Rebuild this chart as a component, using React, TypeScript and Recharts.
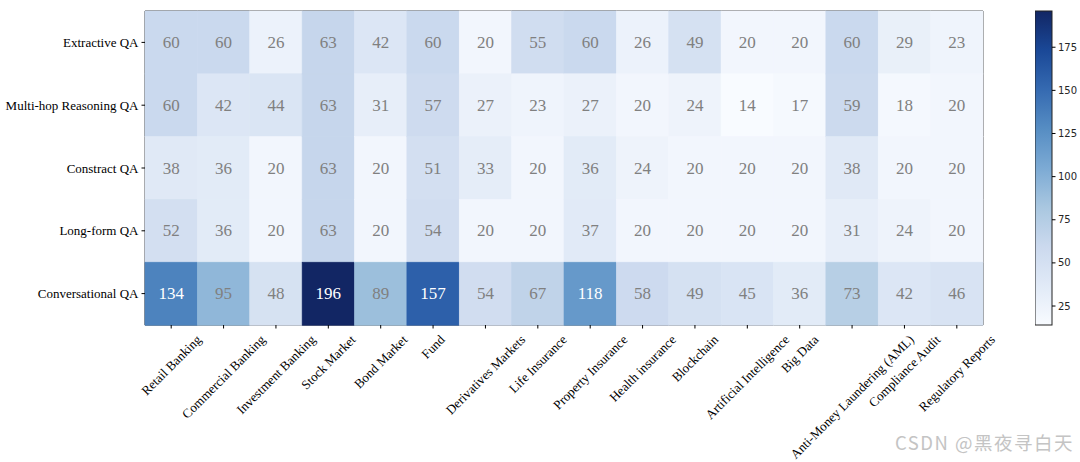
import React from "react";
import { BarChart, Bar, XAxis, YAxis, ReferenceArea } from "recharts";

// categories
const columns = [
  "Retail Banking",
  "Commercial Banking",
  "Investment Banking",
  "Stock Market",
  "Bond Market",
  "Fund",
  "Derivatives Markets",
  "Life Insurance",
  "Property Insurance",
  "Health insurance",
  "Blockchain",
  "Artificial Intelligence",
  "Big Data",
  "Anti-Money Laundering (AML)",
  "Compliance Audit",
  "Regulatory Reports",
];

const rows = [
  "Extractive QA",
  "Multi-hop Reasoning QA",
  "Constract QA",
  "Long-form QA",
  "Conversational QA",
];

// one list per row, in column order
const extractive = [60, 60, 26, 63, 42, 60, 20, 55, 60, 26, 49, 20, 20, 60, 29, 23];
const multiHop = [60, 42, 44, 63, 31, 57, 27, 23, 27, 20, 24, 14, 17, 59, 18, 20];
const constract = [38, 36, 20, 63, 20, 51, 33, 20, 36, 24, 20, 20, 20, 38, 20, 20];
const longForm = [52, 36, 20, 63, 20, 54, 20, 20, 37, 20, 20, 20, 20, 31, 24, 20];
const conversational = [134, 95, 48, 196, 89, 157, 54, 67, 118, 58, 49, 45, 36, 73, 42, 46];

const rowValues = [extractive, multiHop, constract, longForm, conversational];

const colorbarTicks = [25, 50, 75, 100, 125, 150, 175];

const allValues = rowValues.flat();
const vmin = Math.min(...allValues);
const vmax = Math.max(...allValues);

// matplotlib "Blues"
const bluesStops = [
  "#f7fbff", "#deebf7", "#c6dbef", "#9ecae1", "#6baed6",
  "#4292c6", "#2171b5", "#08519c", "#08306b",
];

function hexToRgb(h: string) {
  const n = parseInt(h.slice(1), 16);
  return [(n >> 16) & 255, (n >> 8) & 255, n & 255];
}

// small tint so the blues look like the reference image
function tint(c: number[]) {
  const [r, g, b] = c;
  const r2 = r + 0.25 * (g - r);
  const g2 = g - 0.05 * (255 - g);
  const b2 = b - 0.05 * (255 - b);
  return `rgb(${Math.round(r2)},${Math.round(g2)},${Math.round(b2)})`;
}

function blues(t: number) {
  const c = Math.max(0, Math.min(1, t)) * (bluesStops.length - 1);
  const i = Math.min(bluesStops.length - 2, Math.floor(c));
  const f = c - i;
  const a = hexToRgb(bluesStops[i]);
  const b = hexToRgb(bluesStops[i + 1]);
  return tint(a.map((v, k) => v + (b[k] - v) * f));
}

const colorFor = (v: number) => blues((v - vmin) / (vmax - vmin));

const serif = "'Liberation Serif', 'Times New Roman', serif";
const sans = "'DejaVu Sans', sans-serif";

// table for the stacked horizontal bars: each cell is one unit wide
const tableData = rows.map((row, r) => {
  const d: Record<string, number | string> = { row };
  rowValues[r].forEach((v, j) => {
    d[`c${j}`] = 1;
    d[`v${j}`] = v;
  });
  return d;
});

const colTicks = columns.map((_, j) => j + 0.5);

const colorbarData = [{ name: "scale", range: [vmin, vmax] }];

let ctx: CanvasRenderingContext2D | null = null;
function textWidth(s: string, size: number) {
  if (!ctx && typeof document !== "undefined") {
    ctx = document.createElement("canvas").getContext("2d");
  }
  if (!ctx) return s.length * size * 0.45;
  ctx.font = `${size}px 'Liberation Serif'`;
  return ctx.measureText(s).width;
}

const X_FONT = 13;

const XTick = (props: any) => {
  const { x, y, payload } = props;
  const label = columns[Math.floor(payload.value)];
  const L = textWidth(label, X_FONT);
  const h = X_FONT * 1.05;
  const cy = y + 0.5 + (L + h) * 0.35355;
  return (
    <text
      transform={`translate(${x},${cy}) rotate(-45)`}
      textAnchor="middle"
      dominantBaseline="central"
      fontFamily={serif}
      fontSize={X_FONT}
      fill="#000"
    >
      {label}
    </text>
  );
};

const YTick = (props: any) => {
  const { x, y, payload } = props;
  return (
    <text
      x={x}
      y={y}
      textAnchor="end"
      dominantBaseline="central"
      fontFamily={serif}
      fontSize={13}
      fill="#000"
    >
      {payload.value}
    </text>
  );
};

const makeShape = (j: number) => (p: any) => {
  const { x, y, width, height, payload } = p;
  const v = payload[`v${j}`] as number;
  const fill = colorFor(v);
  return (
    <g>
      <rect x={x} y={y} width={width} height={height} fill={fill} stroke={fill} strokeWidth={0.6} />
      <text
        x={x + width / 2}
        y={y + height / 2}
        textAnchor="middle"
        dominantBaseline="central"
        fontFamily={serif}
        fontSize={17}
        fill={v > (vmax + vmin) / 2 ? "#ffffff" : "#808080"}
      >
        {v}
      </text>
    </g>
  );
};

const ColorbarShape = (p: any) => {
  const { x, y, width, height } = p;
  return (
    <g>
      <defs>
        <linearGradient id="cbGrad" x1="0" y1="1" x2="0" y2="0">
          {bluesStops.map((_, i) => {
            const t = i / (bluesStops.length - 1);
            return <stop key={i} offset={t} stopColor={blues(t)} />;
          })}
        </linearGradient>
      </defs>
      <rect x={x} y={y} width={width} height={height} fill="url(#cbGrad)" stroke="#222" strokeWidth={1} />
    </g>
  );
};

export default function App() {
  return (
    <div style={{ position: "absolute", left: 0, top: 0, width: 1080, height: 462, background: "#fff" }}>
      <div style={{ position: "absolute", left: 0, top: 0 }}>
        <BarChart
          width={1080}
          height={462}
          data={tableData}
          layout="vertical"
          barCategoryGap={0}
          barGap={0}
          margin={{ top: 11, right: 97, bottom: 7, left: 5 }}
        >
          <XAxis
            type="number"
            domain={[0, columns.length]}
            ticks={colTicks}
            interval={0}
            height={130}
            tick={<XTick />}
            tickSize={3.5}
            tickMargin={3.5}
            tickLine={{ stroke: "#000" }}
            axisLine={false}
            allowDecimals
          />
          <YAxis
            type="category"
            dataKey="row"
            width={140}
            tickSize={3.5}
            tickMargin={3}
            tickLine={{ stroke: "#000" }}
            axisLine={false}
            tick={<YTick />}
          />
          {columns.map((_, j) => (
            <Bar
              key={j}
              dataKey={`c${j}`}
              stackId="a"
              isAnimationActive={false}
              shape={makeShape(j)}
            />
          ))}
          <ReferenceArea x1={0} x2={columns.length} fill="none" stroke="#222" strokeWidth={1} fillOpacity={0} />
        </BarChart>
      </div>

      {/* colorbar */}
      <div style={{ position: "absolute", left: 1035, top: 0 }}>
        <BarChart
          width={60}
          height={462}
          data={colorbarData}
          barCategoryGap={0}
          margin={{ top: 11, right: 0, bottom: 137, left: 0 }}
        >
          <XAxis type="category" dataKey="name" hide />
          <YAxis
            type="number"
            orientation="right"
            domain={[vmin, vmax]}
            ticks={colorbarTicks}
            width={43}
            tickSize={3.5}
            tickMargin={2.5}
            tickLine={{ stroke: "#000" }}
            axisLine={false}
            tick={{ fontFamily: sans, fontSize: 10, fill: "#262626" }}
          />
          <Bar dataKey="range" isAnimationActive={false} shape={<ColorbarShape />} />
        </BarChart>
      </div>

      <div
        style={{
          position: "absolute",
          left: 895,
          top: 432,
          fontFamily: "'Noto Sans CJK SC', 'Noto Sans', sans-serif",
          fontSize: 18.5,
          lineHeight: "21px",
          letterSpacing: 1.5,
          color: "#c4c4c4",
          whiteSpace: "nowrap",
        }}
      >
        CSDN @黑夜寻白天
      </div>
    </div>
  );
}
